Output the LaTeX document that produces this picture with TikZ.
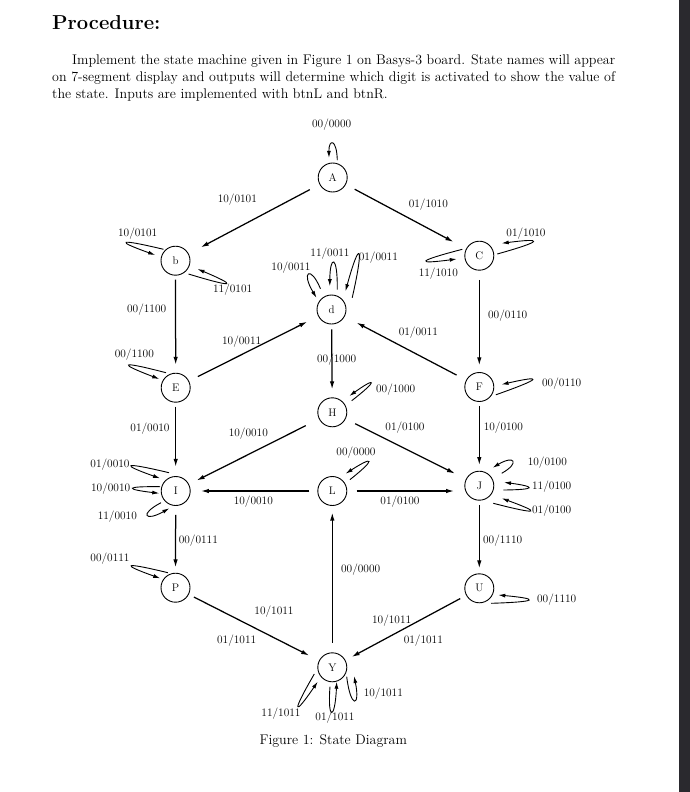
\documentclass[tikz,border=0pt]{standalone}
\usetikzlibrary{arrows.meta,calc}
\definecolor{barcol}{HTML}{2A292E}
\tikzset{
  state/.style={circle,draw,line width=0.9pt,minimum size=29pt,inner sep=0pt,font=\fontsize{11}{13}\selectfont},
  edge/.style={line width=1.25pt,-{Latex[length=8pt,width=4.5pt]}},
  loopedge/.style={line width=0.9pt,-{Latex[length=7pt,width=4pt]}},
  lbl/.style={inner sep=0pt,font=\fontsize{11.4}{13}\selectfont},
}
\newcommand\mkloop[5]{\draw[loopedge] ($(#1)+(#2)$) .. controls ($(#1)+(#3)$) and ($(#1)+(#4)$) .. ($(#1)+(#5)$);}
\begin{document}
\begin{tikzpicture}[x=1pt,y=-1pt]
\fill[white] (0,0) rectangle (690,792);
\useasboundingbox (0,0) rectangle (690,792);
\fill[barcol] (679,0) rectangle (690,792);
\node[anchor=base west,inner sep=0pt,font=\fontsize{20.16}{24}\selectfont\bfseries] (head) at (52,29.5) {Procedure:};
\node[anchor=base west,inner sep=0pt,text width=563pt,align=justify,font=\fontsize{14}{17}\selectfont] (para) at (52,64.5) {\hspace*{20pt}Implement the state machine given in Figure 1 on Basys-3 board. State names will appear\linebreak on 7-segment display and outputs will determine which digit is activated to show the value of\linebreak the state. Inputs are implemented with btnL and btnR.};
% states
\node[state] (A) at (332.7,177.5) {A};
\node[state] (b) at (175.5,260.7) {b};
\node[state] (C) at (479.3,255.7) {C};
\node[state] (d) at (331.5,309.5) {d};
\node[state] (E) at (175.7,387.7) {E};
\node[state] (F) at (479.3,387) {F};
\node[state] (H) at (332.3,412.3) {H};
\node[state] (I) at (175.7,491) {I};
\node[state] (L) at (332.3,491) {L};
\node[state] (J) at (479.3,485.7) {J};
\node[state] (P) at (175.5,587.7) {P};
\node[state] (U) at (479.3,588.3) {U};
\node[state] (Y) at (332.3,667.3) {Y};
% edges
\draw[edge,shorten <=11pt,shorten >=13.6pt] (A) -- (b);
\draw[edge,shorten <=10pt,shorten >=14.4pt] (A) -- (C);
\draw[edge,shorten <=4pt,shorten >=8pt] (b) -- (E);
\draw[edge,shorten <=9.8pt,shorten >=12.2pt] (E) -- (d);
\draw[edge,shorten <=5pt,shorten >=8pt] (d) -- (H);
\draw[edge,shorten <=10.8pt,shorten >=13.4pt] (F) -- (d);
\draw[edge,shorten <=9.3pt,shorten >=6.7pt] (C) -- (F);
\draw[edge,shorten <=4pt,shorten >=9.3pt] (E) -- (I);
\draw[edge,shorten <=14.8pt,shorten >=8.5pt] (H) -- (I);
\draw[edge,shorten <=10.6pt,shorten >=12.2pt] (H) -- (J);
\draw[edge,shorten <=4pt,shorten >=5.7pt] (F) -- (J);
\draw[edge,shorten <=8pt,shorten >=10.3pt] (L) -- (I);
\draw[edge,shorten <=9.4pt,shorten >=25.3pt] (L) -- (L -| J);
\draw[edge,shorten <=9pt,shorten >=5.4pt] (I) -- (P);
\draw[edge,shorten <=4.3pt,shorten >=5pt] (J) -- (U);
\draw[edge,shorten <=9.6pt,shorten >=6.6pt] (Y) -- (L);
\draw[edge,shorten <=5.7pt,shorten >=11pt] (P) -- (Y);
\draw[edge,shorten <=6.7pt,shorten >=7pt] (U) -- (Y);
% self loops
\mkloop{A}{4.6,-17.3}{4,-39}{-4,-39}{-3.7,-19.6}
\mkloop{b}{-12,-11.4}{-58.9,-22.6}{-59.9,-19.8}{-20.3,-5.7}
\mkloop{b}{13,13.3}{60.8,27.9}{62,25.1}{22,8.3}
\mkloop{E}{-9.7,-15}{-56.9,-27.3}{-58.1,-24.6}{-16.4,-8.7}
\mkloop{C}{18,-1.7}{64.9,-14.9}{64.1,-17.8}{22.4,-12.4}
\mkloop{C}{-17,-6.4}{-63.6,5.7}{-63.4,8.7}{-22.6,3.3}
\mkloop{F}{16.5,7.8}{64.2,-9}{63.8,-12}{22.2,-2.5}
\mkloop{d}{-11,-20.7}{-21.1,-44.9}{-30.7,-37.7}{-15,-11.7}
\mkloop{d}{5.7,-20}{6.4,-55}{-1.6,-55}{-1.7,-23.3}
\mkloop{d}{20.7,-11.7}{33.3,-67}{27.9,-69.7}{14,-18.3}
\mkloop{H}{19.4,-11.6}{46.3,-32.4}{43.9,-35.6}{17,-16.3}
\mkloop{I}{-6.7,-18.3}{-54.6,-29.7}{-55.2,-26.7}{-15.7,-12.7}
\mkloop{I}{-15.7,-4.3}{-51.2,-4.8}{-51.2,-1.8}{-16.4,2.3}
\mkloop{I}{-14.7,11.7}{-37,23.4}{-30.5,31}{-6.4,17.3}
\mkloop{L}{17.7,-11.4}{44.1,-32.3}{41.5,-35.5}{13.4,-17.4}
\mkloop{J}{22.4,-12.4}{41,-22.9}{35,-31}{13.4,-18}
\mkloop{J}{24,4.3}{57.2,4}{57.2,1}{24.7,-3.4}
\mkloop{J}{14,17.6}{60.8,29.7}{62.2,27}{22.4,12.6}
\mkloop{P}{-7.6,-15}{-53.6,-26.2}{-55,-23.5}{-15.3,-9.4}
\mkloop{U}{11.7,15}{60.2,13.5}{60.2,10.5}{19,6.7}
\mkloop{Y}{-18,6.7}{-41.4,46.8}{-38.4,49.4}{-14.6,14.4}
\mkloop{Y}{-2.3,19.4}{-5,53.6}{2.7,53.6}{4.4,14.4}
\mkloop{Y}{14.4,9.4}{18.3,41.8}{28.3,40.2}{21.7,8.7}
% labels
\node[lbl] (l1) at (331.7,125) {00/0000};
\node[lbl] (l2) at (237.3,199.3) {10/0101};
\node[lbl] (l3) at (428.3,204.3) {01/1010};
\node[lbl] (l4) at (137.7,234) {10/0101};
\node[lbl] (l5) at (232.7,289.3) {11/0101};
\node[lbl] (l6) at (330,253.3) {11/0011};
\node[lbl] (l7) at (291,267.7) {10/0011};
\node[lbl] (l8) at (378.3,257.3) {01/0011};
\node[lbl] (l9) at (438.3,273.3) {11/1010};
\node[lbl] (l10) at (526,234) {01/1010};
\node[lbl] (l11) at (146.7,310) {00/1100};
\node[lbl] (l12) at (134.3,355) {00/1100};
\node[lbl] (l13) at (241.7,341.7) {10/0011};
\node[lbl] (l14) at (150,428.3) {01/0010};
\node[lbl] (l15) at (248.3,433.3) {10/0010};
\node[lbl] (l16) at (507.7,315.7) {00/0110};
\node[lbl] (l17) at (418.3,332.3) {01/0011};
\node[lbl] (l18) at (336.7,360) {00/1000};
\node[lbl] (l19) at (395.7,389.3) {00/1000};
\node[lbl] (l20) at (561.7,384) {00/0110};
\node[lbl] (l21) at (405,427.7) {01/0100};
\node[lbl] (l22) at (503.3,427.7) {10/0100};
\node[lbl] (l23) at (356,452.7) {00/0000};
\node[lbl] (l24) at (110,465) {01/0010};
\node[lbl] (l25) at (110.7,488.3) {10/0010};
\node[lbl] (l26) at (117.3,516.7) {11/0010};
\node[lbl] (l27) at (253.3,501.7) {10/0010};
\node[lbl] (l28) at (198.3,540.7) {00/0111};
\node[lbl] (l29) at (110,558.3) {00/0111};
\node[lbl] (l30) at (400,501.7) {01/0100};
\node[lbl] (l31) at (547.3,462.7) {10/0100};
\node[lbl] (l32) at (551.7,486.7) {11/0100};
\node[lbl] (l33) at (551.7,511) {01/0100};
\node[lbl] (l34) at (502.7,540.7) {00/1110};
\node[lbl] (l35) at (360.7,570) {00/0000};
\node[lbl] (l36) at (556.7,600) {00/1110};
\node[lbl] (l37) at (274,611.7) {10/1011};
\node[lbl] (l38) at (236.7,640.7) {01/1011};
\node[lbl] (l39) at (391.7,620.7) {10/1011};
\node[lbl] (l40) at (423.3,640.7) {01/1011};
\node[lbl] (l41) at (281,714) {11/1011};
\node[lbl] (l42) at (335,717.7) {01/1011};
\node[lbl] (l43) at (383.3,693.3) {10/1011};
\node[inner sep=0pt,font=\fontsize{14}{17}\selectfont] (cap) at (333.3,741) {Figure 1: State Diagram};
\end{tikzpicture}
\end{document}
